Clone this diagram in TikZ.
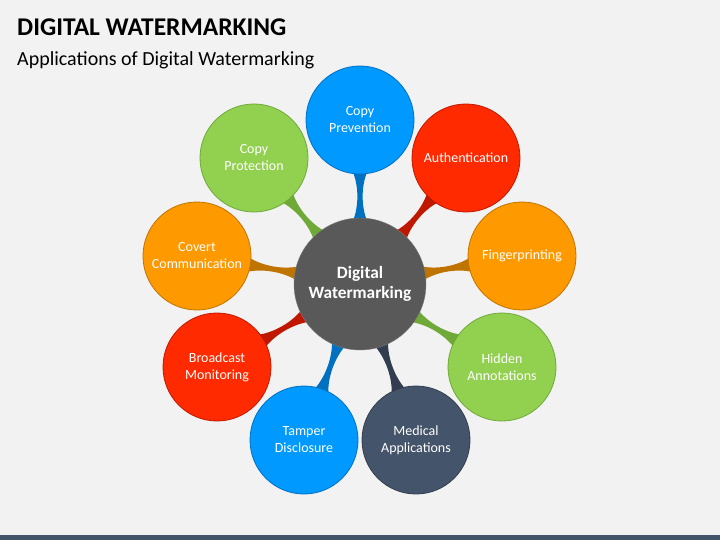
\documentclass[tikz,border=0pt]{standalone}
\usepackage{fontspec}
\setmainfont{Carlito}
\usetikzlibrary{calc}
\pgfdeclarelayer{back}
\pgfdeclarelayer{stems}
\pgfsetlayers{back,stems,main}
\definecolor{bg}{HTML}{F2F2F2}
\definecolor{slate}{HTML}{44546A}
\definecolor{slatedk}{HTML}{323E4F}
\definecolor{hubgray}{HTML}{595959}
\definecolor{wblue}{HTML}{0099FF}
\definecolor{wbluedk}{HTML}{0070C0}
\definecolor{wred}{HTML}{FF2A00}
\definecolor{wreddk}{HTML}{C01800}
\definecolor{worange}{HTML}{FF9900}
\definecolor{worangedk}{HTML}{C07400}
\definecolor{wgreen}{HTML}{92D050}
\definecolor{wgreendk}{HTML}{6FAA38}
\begin{document}
\begin{tikzpicture}[x=1pt, y=-1pt,
    app/.style={circle, minimum size=108pt, inner sep=0pt, align=center,
        text=white, line width=0.8pt, font=\fontsize{14}{17}\selectfont},
    hub/.style={circle, minimum size=132pt, inner sep=0pt, align=center, fill=hubgray,
        draw=hubgray!80!white, text=white, font=\bfseries\fontsize{17.3}{20}\selectfont}
]
    \begin{pgfonlayer}{back}
        \fill[bg] (0,0) rectangle (720,540);
    \end{pgfonlayer}
    \useasboundingbox (0,0) rectangle (720,540);
    \fill[slate] (0,535) rectangle (720,540);
    \node[anchor=base west, inner sep=0pt, font=\bfseries\fontsize{25.5}{30}\selectfont] (title) at (17,36) {DIGITAL WATERMARKING};
    \node[anchor=base west, inner sep=0pt, font=\fontsize{20}{24}\selectfont] (subtitle) at (17,66) {Applications of Digital Watermarking};

    \node[hub] (c) at (360,284) {Digital\\Watermarking};
    % outer ring, 40 degrees apart
    \node[app, fill=wblue, draw=wbluedk] (cpv) at (360,120) {Copy\\Prevention};
    \node[app, fill=wred, draw=wreddk] (auth) at (466,158) {Authentication};
    \node[app, fill=worange, draw=worangedk] (fing) at (522,256) {Fingerprinting};
    \node[app, fill=wgreen, draw=wgreendk] (hid) at (502,367) {Hidden\\Annotations};
    \node[app, fill=slate, draw=slatedk] (med) at (416,440) {Medical\\Applications};
    \node[app, fill=wblue, draw=wbluedk] (tam) at (304,440) {Tamper\\Disclosure};
    \node[app, fill=wred, draw=wreddk] (brd) at (217,367) {Broadcast\\Monitoring};
    \node[app, fill=worange, draw=worangedk] (cov) at (197,256) {Covert\\Communication};
    \node[app, fill=wgreen, draw=wgreendk] (cpt) at (254,158) {Copy\\Protection};

    % tapered stems from hub to each circle
    \begin{pgfonlayer}{stems}
    \foreach \o/\col in {cpv/wbluedk, auth/wreddk, fing/worangedk, hid/wgreendk, med/slatedk,
                         tam/wbluedk, brd/wreddk, cov/worangedk, cpt/wgreendk} {
        \path ($(c.center)!62pt!(\o.center)$) coordinate (a)
              ($(\o.center)!51pt!(c.center)$) coordinate (b)
              ($(a)!0.3!(b)$) coordinate (p)
              ($(a)!0.7!(b)$) coordinate (q);
        \fill[\col] ($(a)!7.5pt!90:(b)$) .. controls ($(p)!1pt!90:(b)$) and ($(q)!1pt!-90:(a)$) .. ($(b)!7.5pt!-90:(a)$)
            -- ($(b)!7.5pt!90:(a)$) .. controls ($(q)!1pt!90:(a)$) and ($(p)!1pt!-90:(b)$) .. ($(a)!7.5pt!-90:(b)$) -- cycle;
    }
    \end{pgfonlayer}
\end{tikzpicture}
\end{document}
